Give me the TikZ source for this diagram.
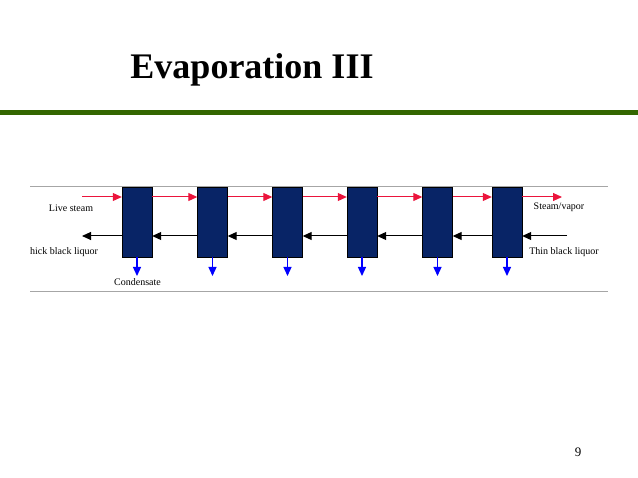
\documentclass[tikz,border=0pt]{standalone}
\usepackage{fontspec}
\setmainfont{Liberation Serif}
\usetikzlibrary{arrows.meta}
\definecolor{navy}{RGB}{8,36,102}
\definecolor{slidegreen}{RGB}{51,102,0}
\definecolor{steamred}{RGB}{235,20,60}

\begin{document}
\begin{tikzpicture}[x=1pt,y=-1pt,
    effect/.style={draw=black,fill=navy,minimum width=30pt,minimum height=70pt,inner sep=0pt},
    lbl/.style={font=\fontsize{10}{12}\selectfont,inner sep=0pt},
    steam/.style={draw=steamred,line width=1pt,-{Triangle[length=9pt,width=8pt]}},
    liquor/.style={draw=black,line width=1pt,-{Triangle[length=9pt,width=8pt]}},
    cond/.style={draw=blue,line width=1.3pt,-{Triangle[length=9pt,width=8pt]}}]
    \useasboundingbox (0,0) rectangle (638,478);
    % title and rule
    \node[font=\fontsize{36}{40}\selectfont\bfseries,anchor=base,inner sep=0pt] (title) at (252,79) {Evaporation III};
    \fill[slidegreen] (0,110) rectangle (638,115);
    \draw[gray!70,line width=0.8pt] (30,186) -- (608,186);
    \draw[gray!70,line width=0.8pt] (30,291) -- (608,291);
    % effects
    \node[effect] (b1) at (137,222) {};
    \node[effect] (b2) at (212.5,222) {};
    \node[effect] (b3) at (287.5,222) {};
    \node[effect] (b4) at (362,222) {};
    \node[effect] (b5) at (437.5,222) {};
    \node[effect] (b6) at (507,222) {};
    % free ends
    \coordinate (steamin) at (82,197);
    \coordinate (steamout) at (562,197);
    \coordinate (liqin) at (567,236);
    \coordinate (liqout) at (82,236);
    \coordinate (c1) at (137,276);
    \coordinate (c2) at (212.5,276);
    \coordinate (c3) at (287.5,276);
    \coordinate (c4) at (362,276);
    \coordinate (c5) at (437.5,276);
    \coordinate (c6) at (507,276);
    % steam
    \draw [steam] (steamin) -- (steamin -| b1.west);
    \draw [steam] (b1.east |- steamin) -- (b2.west |- steamin);
    \draw [steam] (b2.east |- steamin) -- (b3.west |- steamin);
    \draw [steam] (b3.east |- steamin) -- (b4.west |- steamin);
    \draw [steam] (b4.east |- steamin) -- (b5.west |- steamin);
    \draw [steam] (b5.east |- steamin) -- (b6.west |- steamin);
    \draw [steam] (b6.east |- steamin) -- (steamout);
    % liquor
    \draw [liquor] (liqin) -- (liqin -| b6.east);
    \draw [liquor] (b6.west |- liqin) -- (b5.east |- liqin);
    \draw [liquor] (b5.west |- liqin) -- (b4.east |- liqin);
    \draw [liquor] (b4.west |- liqin) -- (b3.east |- liqin);
    \draw [liquor] (b3.west |- liqin) -- (b2.east |- liqin);
    \draw [liquor] (b2.west |- liqin) -- (b1.east |- liqin);
    \draw [liquor] (b1.west |- liqin) -- (liqout);
    % condensate
    \draw [cond] (b1.south) -- (c1);
    \draw [cond] (b2.south) -- (c2);
    \draw [cond] (b3.south) -- (c3);
    \draw [cond] (b4.south) -- (c4);
    \draw [cond] (b5.south) -- (c5);
    \draw [cond] (b6.south) -- (c6);
    % labels
    \node[lbl] (live) at (71,208) {Live steam};
    \node[lbl,anchor=west] (thick) at (30,252) {hick black liquor};
    \node[lbl] (conds) at (137.5,282) {Condensate};
    \node[lbl] (vapor) at (559,207) {Steam/vapor};
    \node[lbl] (thin) at (564,252) {Thin black liquor};
    \node[font=\fontsize{13}{15}\selectfont,inner sep=0pt] (page) at (578,452) {9};
\end{tikzpicture}
\end{document}
